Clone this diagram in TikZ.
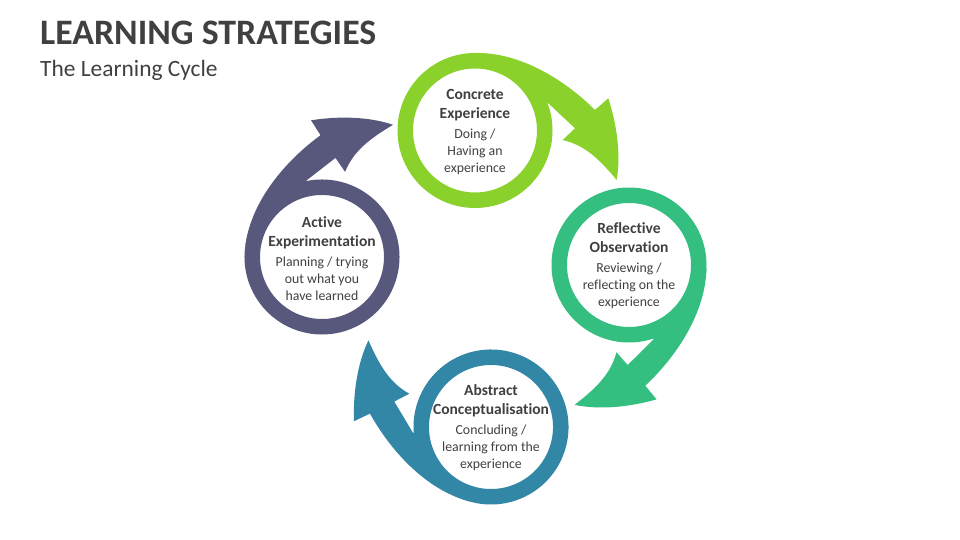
\documentclass[tikz,border=0pt]{standalone}
\usepackage{fontspec}
\setmainfont{Carlito}[Ligatures=NoCommon]
\definecolor{cgreen}{HTML}{8BD12B}
\definecolor{cmint}{HTML}{34BF80}
\definecolor{cteal}{HTML}{3187A5}
\definecolor{cpurple}{HTML}{58587C}
\definecolor{ctext}{HTML}{404040}
\newcommand\cycleshape[3]{%
 \begin{scope}[shift={#1},rotate=#2]
  \fill[#3] (0,77.5) .. controls (45,78.5) and (90,50.5) .. (120,20.5)
    -- (133.3,32.2) .. controls (142,5.5) and (146,-24.5) .. (141.7,-49.5)
    .. controls (125,-29.5) and (110,-14.5) .. (87.7,-9.5)
    -- (100,2.2) -- (73.3,27.2) -- (21:70) arc[start angle=21,end angle=90,radius=70] -- cycle;
  \draw[#3,line width=15.5pt] (0,0) circle[radius=69.75];
 \end{scope}}
\newcommand\hd[1]{{\bfseries\fontsize{15.5}{19}\selectfont #1}}
\tikzset{
  lbl/.style={align=center,text=ctext,font=\fontsize{13.8}{17}\selectfont,inner sep=0pt},
  ttl/.style={anchor=base west,inner sep=0pt,text=ctext}
}
\begin{document}
\begin{tikzpicture}[x=1pt,y=1pt]
\useasboundingbox[fill=white] (0,0) rectangle (960,540);
\node[ttl,font=\bfseries\fontsize{35.8}{40}\selectfont] (title) at (40,495) {LEARNING STRATEGIES};
\node[ttl,font=\fontsize{23.4}{28}\selectfont] (subtitle) at (40,463) {The Learning Cycle};

\cycleshape{(475,409.5)}{0}{cgreen}
\cycleshape{(629,275)}{-92}{cmint}
\cycleshape{(491,113)}{-196}{cteal}
\cycleshape{(322,283)}{-279}{cpurple}

\node[lbl] (ce) at (475,408) {\hd{Concrete}\\[2pt]\hd{Experience}\\[3pt]Doing /\\Having an\\experience};
\node[lbl] (ro) at (629,274) {\hd{Reflective}\\[2pt]\hd{Observation}\\[3pt]Reviewing /\\reflecting on the\\experience};
\node[lbl] (ac) at (491,112) {\hd{Abstract}\\[2pt]\hd{Conceptualisation}\\[3pt]Concluding /\\learning from the\\experience};
\node[lbl] (ae) at (322,281.5) {\hd{Active}\\[2pt]\hd{Experimentation}\\[3pt]Planning / trying\\out what you\\have learned};
\end{tikzpicture}
\end{document}
